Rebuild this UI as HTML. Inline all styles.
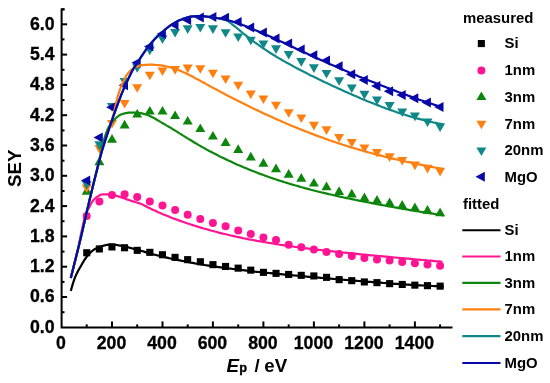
<!DOCTYPE html>
<html><head><meta charset="utf-8"><title>SEY</title>
<style>
html,body{margin:0;padding:0;background:#fff;}
svg{display:block;}
text{font-family:"Liberation Sans",Arial,sans-serif;font-weight:bold;fill:#000;}
.t{font-size:17.7px;stroke:#000;stroke-width:0.3px;}
.l{font-size:14.9px;}
.a{font-size:18.7px;}
</style></head><body>
<svg width="550" height="383" viewBox="0 0 550 383">
<rect width="550" height="383" fill="#fff"/>
<g><rect x="83.2" y="249.2" width="7.1" height="7.1" fill="#000000"/><rect x="95.8" y="245.4" width="7.1" height="7.1" fill="#000000"/><rect x="108.4" y="243.4" width="7.1" height="7.1" fill="#000000"/><rect x="121.0" y="244.2" width="7.1" height="7.1" fill="#000000"/><rect x="133.7" y="246.8" width="7.1" height="7.1" fill="#000000"/><rect x="146.3" y="248.8" width="7.1" height="7.1" fill="#000000"/><rect x="158.9" y="251.2" width="7.1" height="7.1" fill="#000000"/><rect x="171.5" y="253.8" width="7.1" height="7.1" fill="#000000"/><rect x="184.1" y="256.1" width="7.1" height="7.1" fill="#000000"/><rect x="196.8" y="258.2" width="7.1" height="7.1" fill="#000000"/><rect x="209.4" y="261.1" width="7.1" height="7.1" fill="#000000"/><rect x="222.0" y="262.9" width="7.1" height="7.1" fill="#000000"/><rect x="234.6" y="264.6" width="7.1" height="7.1" fill="#000000"/><rect x="247.2" y="266.6" width="7.1" height="7.1" fill="#000000"/><rect x="259.9" y="268.8" width="7.1" height="7.1" fill="#000000"/><rect x="272.5" y="269.8" width="7.1" height="7.1" fill="#000000"/><rect x="285.1" y="270.9" width="7.1" height="7.1" fill="#000000"/><rect x="297.7" y="271.8" width="7.1" height="7.1" fill="#000000"/><rect x="310.3" y="272.4" width="7.1" height="7.1" fill="#000000"/><rect x="323.0" y="273.8" width="7.1" height="7.1" fill="#000000"/><rect x="335.6" y="276.1" width="7.1" height="7.1" fill="#000000"/><rect x="348.2" y="277.1" width="7.1" height="7.1" fill="#000000"/><rect x="360.8" y="278.4" width="7.1" height="7.1" fill="#000000"/><rect x="373.4" y="279.1" width="7.1" height="7.1" fill="#000000"/><rect x="386.1" y="280.1" width="7.1" height="7.1" fill="#000000"/><rect x="398.7" y="280.9" width="7.1" height="7.1" fill="#000000"/><rect x="411.3" y="281.6" width="7.1" height="7.1" fill="#000000"/><rect x="423.9" y="282.1" width="7.1" height="7.1" fill="#000000"/><rect x="436.6" y="282.6" width="7.1" height="7.1" fill="#000000"/></g>
<g><circle cx="86.7" cy="215.9" r="4.0" fill="#FF1493"/><circle cx="99.4" cy="201.4" r="4.0" fill="#FF1493"/><circle cx="112.0" cy="195.1" r="4.0" fill="#FF1493"/><circle cx="124.6" cy="194.3" r="4.0" fill="#FF1493"/><circle cx="137.2" cy="197.1" r="4.0" fill="#FF1493"/><circle cx="149.8" cy="201.4" r="4.0" fill="#FF1493"/><circle cx="162.5" cy="205.6" r="4.0" fill="#FF1493"/><circle cx="175.1" cy="210.1" r="4.0" fill="#FF1493"/><circle cx="187.7" cy="214.7" r="4.0" fill="#FF1493"/><circle cx="200.3" cy="218.9" r="4.0" fill="#FF1493"/><circle cx="212.9" cy="223.1" r="4.0" fill="#FF1493"/><circle cx="225.6" cy="226.3" r="4.0" fill="#FF1493"/><circle cx="238.2" cy="230.6" r="4.0" fill="#FF1493"/><circle cx="250.8" cy="233.9" r="4.0" fill="#FF1493"/><circle cx="263.4" cy="237.6" r="4.0" fill="#FF1493"/><circle cx="276.0" cy="240.1" r="4.0" fill="#FF1493"/><circle cx="288.7" cy="244.7" r="4.0" fill="#FF1493"/><circle cx="301.3" cy="247.2" r="4.0" fill="#FF1493"/><circle cx="313.9" cy="249.4" r="4.0" fill="#FF1493"/><circle cx="326.5" cy="251.9" r="4.0" fill="#FF1493"/><circle cx="339.1" cy="253.9" r="4.0" fill="#FF1493"/><circle cx="351.8" cy="255.9" r="4.0" fill="#FF1493"/><circle cx="364.4" cy="258.1" r="4.0" fill="#FF1493"/><circle cx="377.0" cy="259.4" r="4.0" fill="#FF1493"/><circle cx="389.6" cy="260.6" r="4.0" fill="#FF1493"/><circle cx="402.2" cy="261.9" r="4.0" fill="#FF1493"/><circle cx="414.9" cy="263.2" r="4.0" fill="#FF1493"/><circle cx="427.5" cy="264.4" r="4.0" fill="#FF1493"/><circle cx="440.1" cy="265.7" r="4.0" fill="#FF1493"/></g>
<g><polygon points="86.7,186.1 81.7,194.8 91.7,194.8" fill="#0C860C"/><polygon points="99.4,156.5 94.4,165.2 104.4,165.2" fill="#0C860C"/><polygon points="112.0,134.0 107.0,142.7 117.0,142.7" fill="#0C860C"/><polygon points="124.6,119.7 119.6,128.4 129.6,128.4" fill="#0C860C"/><polygon points="137.2,108.9 132.2,117.6 142.2,117.6" fill="#0C860C"/><polygon points="149.8,105.9 144.8,114.6 154.8,114.6" fill="#0C860C"/><polygon points="162.5,105.9 157.5,114.6 167.5,114.6" fill="#0C860C"/><polygon points="175.1,110.4 170.1,119.1 180.1,119.1" fill="#0C860C"/><polygon points="187.7,115.9 182.7,124.6 192.7,124.6" fill="#0C860C"/><polygon points="200.3,123.4 195.3,132.1 205.3,132.1" fill="#0C860C"/><polygon points="212.9,130.9 207.9,139.6 217.9,139.6" fill="#0C860C"/><polygon points="225.6,137.2 220.6,145.9 230.6,145.9" fill="#0C860C"/><polygon points="238.2,144.2 233.2,152.9 243.2,152.9" fill="#0C860C"/><polygon points="250.8,151.8 245.8,160.5 255.8,160.5" fill="#0C860C"/><polygon points="263.4,158.0 258.4,166.7 268.4,166.7" fill="#0C860C"/><polygon points="276.0,163.6 271.0,172.3 281.0,172.3" fill="#0C860C"/><polygon points="288.7,169.1 283.7,177.8 293.7,177.8" fill="#0C860C"/><polygon points="301.3,173.1 296.3,181.8 306.3,181.8" fill="#0C860C"/><polygon points="313.9,177.9 308.9,186.6 318.9,186.6" fill="#0C860C"/><polygon points="326.5,181.6 321.5,190.3 331.5,190.3" fill="#0C860C"/><polygon points="339.1,186.3 334.1,195.0 344.1,195.0" fill="#0C860C"/><polygon points="351.8,188.8 346.8,197.5 356.8,197.5" fill="#0C860C"/><polygon points="364.4,192.6 359.4,201.3 369.4,201.3" fill="#0C860C"/><polygon points="377.0,195.1 372.0,203.8 382.0,203.8" fill="#0C860C"/><polygon points="389.6,197.6 384.6,206.3 394.6,206.3" fill="#0C860C"/><polygon points="402.2,200.1 397.2,208.8 407.2,208.8" fill="#0C860C"/><polygon points="414.9,202.6 409.9,211.3 419.9,211.3" fill="#0C860C"/><polygon points="427.5,205.1 422.5,213.8 432.5,213.8" fill="#0C860C"/><polygon points="440.1,207.6 435.1,216.3 445.1,216.3" fill="#0C860C"/></g>
<g><polygon points="86.7,193.0 81.7,184.4 91.7,184.4" fill="#FF8010"/><polygon points="99.4,153.7 94.4,145.1 104.4,145.1" fill="#FF8010"/><polygon points="112.0,128.6 107.0,120.0 117.0,120.0" fill="#FF8010"/><polygon points="124.6,108.5 119.6,99.9 129.6,99.9" fill="#FF8010"/><polygon points="137.2,92.8 132.2,84.2 142.2,84.2" fill="#FF8010"/><polygon points="149.8,80.3 144.8,71.7 154.8,71.7" fill="#FF8010"/><polygon points="162.5,76.0 157.5,67.4 167.5,67.4" fill="#FF8010"/><polygon points="175.1,74.7 170.1,66.1 180.1,66.1" fill="#FF8010"/><polygon points="187.7,73.2 182.7,64.6 192.7,64.6" fill="#FF8010"/><polygon points="200.3,73.8 195.3,65.2 205.3,65.2" fill="#FF8010"/><polygon points="212.9,78.3 207.9,69.7 217.9,69.7" fill="#FF8010"/><polygon points="225.6,84.0 220.6,75.4 230.6,75.4" fill="#FF8010"/><polygon points="238.2,90.3 233.2,81.7 243.2,81.7" fill="#FF8010"/><polygon points="250.8,99.2 245.8,90.6 255.8,90.6" fill="#FF8010"/><polygon points="263.4,104.0 258.4,95.4 268.4,95.4" fill="#FF8010"/><polygon points="276.0,110.3 271.0,101.7 281.0,101.7" fill="#FF8010"/><polygon points="288.7,117.8 283.7,109.2 293.7,109.2" fill="#FF8010"/><polygon points="301.3,123.1 296.3,114.5 306.3,114.5" fill="#FF8010"/><polygon points="313.9,130.4 308.9,121.8 318.9,121.8" fill="#FF8010"/><polygon points="326.5,134.9 321.5,126.3 331.5,126.3" fill="#FF8010"/><polygon points="339.1,142.6 334.1,134.0 344.1,134.0" fill="#FF8010"/><polygon points="351.8,147.6 346.8,139.0 356.8,139.0" fill="#FF8010"/><polygon points="364.4,153.1 359.4,144.5 369.4,144.5" fill="#FF8010"/><polygon points="377.0,157.6 372.0,149.0 382.0,149.0" fill="#FF8010"/><polygon points="389.6,161.9 384.6,153.3 394.6,153.3" fill="#FF8010"/><polygon points="402.2,165.6 397.2,157.0 407.2,157.0" fill="#FF8010"/><polygon points="414.9,170.2 409.9,161.6 419.9,161.6" fill="#FF8010"/><polygon points="427.5,173.4 422.5,164.8 432.5,164.8" fill="#FF8010"/><polygon points="440.1,176.4 435.1,167.8 445.1,167.8" fill="#FF8010"/></g>
<g><polygon points="86.7,189.6 81.7,181.0 91.7,181.0" fill="#108888"/><polygon points="99.4,149.9 94.4,141.3 104.4,141.3" fill="#108888"/><polygon points="112.0,111.7 107.0,103.1 117.0,103.1" fill="#108888"/><polygon points="124.6,86.5 119.6,77.9 129.6,77.9" fill="#108888"/><polygon points="137.2,72.7 132.2,64.1 142.2,64.1" fill="#108888"/><polygon points="149.8,55.2 144.8,46.6 154.8,46.6" fill="#108888"/><polygon points="162.5,43.9 157.5,35.3 167.5,35.3" fill="#108888"/><polygon points="175.1,37.6 170.1,29.0 180.1,29.0" fill="#108888"/><polygon points="187.7,33.9 182.7,25.3 192.7,25.3" fill="#108888"/><polygon points="200.3,32.5 195.3,23.9 205.3,23.9" fill="#108888"/><polygon points="212.9,33.9 207.9,25.3 217.9,25.3" fill="#108888"/><polygon points="225.6,37.8 220.6,29.2 230.6,29.2" fill="#108888"/><polygon points="238.2,42.1 233.2,33.5 243.2,33.5" fill="#108888"/><polygon points="250.8,45.3 245.8,36.7 255.8,36.7" fill="#108888"/><polygon points="263.4,49.0 258.4,40.4 268.4,40.4" fill="#108888"/><polygon points="276.0,53.9 271.0,45.3 281.0,45.3" fill="#108888"/><polygon points="288.7,59.6 283.7,51.0 293.7,51.0" fill="#108888"/><polygon points="301.3,66.7 296.3,58.1 306.3,58.1" fill="#108888"/><polygon points="313.9,72.9 308.9,64.3 318.9,64.3" fill="#108888"/><polygon points="326.5,78.5 321.5,69.9 331.5,69.9" fill="#108888"/><polygon points="339.1,85.8 334.1,77.2 344.1,77.2" fill="#108888"/><polygon points="351.8,93.1 346.8,84.5 356.8,84.5" fill="#108888"/><polygon points="364.4,99.4 359.4,90.8 369.4,90.8" fill="#108888"/><polygon points="377.0,105.2 372.0,96.6 382.0,96.6" fill="#108888"/><polygon points="389.6,110.7 384.6,102.1 394.6,102.1" fill="#108888"/><polygon points="402.2,117.0 397.2,108.4 407.2,108.4" fill="#108888"/><polygon points="414.9,121.2 409.9,112.6 419.9,112.6" fill="#108888"/><polygon points="427.5,127.0 422.5,118.4 432.5,118.4" fill="#108888"/><polygon points="440.1,132.0 435.1,123.4 445.1,123.4" fill="#108888"/></g>
<g><polygon points="80.9,180.6 90.2,175.6 90.2,185.6" fill="#0808A8"/><polygon points="93.5,137.4 102.8,132.4 102.8,142.4" fill="#0808A8"/><polygon points="106.1,107.3 115.4,102.3 115.4,112.3" fill="#0808A8"/><polygon points="118.7,85.3 128.0,80.3 128.0,90.3" fill="#0808A8"/><polygon points="131.4,62.7 140.7,57.7 140.7,67.7" fill="#0808A8"/><polygon points="144.0,46.4 153.3,41.4 153.3,51.4" fill="#0808A8"/><polygon points="156.6,33.9 165.9,28.9 165.9,38.9" fill="#0808A8"/><polygon points="169.2,25.1 178.5,20.1 178.5,30.1" fill="#0808A8"/><polygon points="181.8,20.1 191.1,15.1 191.1,25.1" fill="#0808A8"/><polygon points="194.5,17.6 203.8,12.6 203.8,22.6" fill="#0808A8"/><polygon points="207.1,17.1 216.4,12.1 216.4,22.1" fill="#0808A8"/><polygon points="219.7,17.8 229.0,12.8 229.0,22.8" fill="#0808A8"/><polygon points="232.3,22.0 241.6,17.0 241.6,27.0" fill="#0808A8"/><polygon points="244.9,27.6 254.2,22.6 254.2,32.6" fill="#0808A8"/><polygon points="257.6,32.6 266.9,27.6 266.9,37.6" fill="#0808A8"/><polygon points="270.2,38.5 279.5,33.5 279.5,43.5" fill="#0808A8"/><polygon points="282.8,43.4 292.1,38.4 292.1,48.4" fill="#0808A8"/><polygon points="295.4,49.6 304.7,44.6 304.7,54.6" fill="#0808A8"/><polygon points="308.0,55.3 317.3,50.3 317.3,60.3" fill="#0808A8"/><polygon points="320.7,60.4 330.0,55.4 330.0,65.4" fill="#0808A8"/><polygon points="333.3,66.3 342.6,61.3 342.6,71.3" fill="#0808A8"/><polygon points="345.9,74.3 355.2,69.3 355.2,79.3" fill="#0808A8"/><polygon points="358.5,80.1 367.8,75.1 367.8,85.1" fill="#0808A8"/><polygon points="371.1,86.1 380.4,81.1 380.4,91.1" fill="#0808A8"/><polygon points="383.8,91.2 393.1,86.2 393.1,96.2" fill="#0808A8"/><polygon points="396.4,94.9 405.7,89.9 405.7,99.9" fill="#0808A8"/><polygon points="409.0,98.2 418.3,93.2 418.3,103.2" fill="#0808A8"/><polygon points="421.6,102.4 430.9,97.4 430.9,107.4" fill="#0808A8"/><polygon points="434.2,107.0 443.5,102.0 443.5,112.0" fill="#0808A8"/></g>
<path d="M70.8,290.9 L71.3,289.1 L71.8,287.3 L72.3,285.6 L72.8,283.9 L73.3,282.3 L73.8,280.8 L74.3,279.4 L74.8,278.0 L75.3,276.7 L75.8,275.6 L76.3,274.4 L76.8,273.4 L77.3,272.4 L77.8,271.4 L78.3,270.5 L78.8,269.6 L79.3,268.7 L79.8,267.8 L80.3,267.0 L80.8,266.1 L81.3,265.3 L81.8,264.4 L82.3,263.5 L82.8,262.7 L83.3,261.9 L83.8,261.0 L84.3,260.2 L84.8,259.5 L85.3,258.7 L85.8,258.0 L86.3,257.3 L86.8,256.6 L87.3,256.0 L87.8,255.4 L88.3,254.8 L88.8,254.3 L89.3,253.7 L89.8,253.2 L90.3,252.7 L90.8,252.2 L91.3,251.7 L91.8,251.3 L92.3,250.9 L92.8,250.5 L93.3,250.1 L93.8,249.8 L94.3,249.5 L94.8,249.1 L95.3,248.9 L95.8,248.6 L96.3,248.3 L96.8,248.1 L97.3,247.8 L97.8,247.6 L98.3,247.4 L98.8,247.2 L99.3,247.0 L99.8,246.8 L100.3,246.7 L100.8,246.5 L101.3,246.4 L101.8,246.2 L102.3,246.1 L102.8,245.9 L103.3,245.8 L103.8,245.6 L104.3,245.5 L104.8,245.4 L105.3,245.3 L105.8,245.1 L106.3,245.0 L106.8,244.9 L107.3,244.8 L107.8,244.8 L108.3,244.7 L108.8,244.6 L109.3,244.6 L109.8,244.5 L110.3,244.5 L110.8,244.5 L111.3,244.5 L111.8,244.5 L112.3,244.5 L112.8,244.6 L113.3,244.6 L113.8,244.6 L114.3,244.7 L114.8,244.8 L115.3,244.8 L115.8,244.9 L116.3,245.0 L116.8,245.0 L117.3,245.1 L117.8,245.2 L118.3,245.3 L118.8,245.4 L119.3,245.5 L119.8,245.6 L120.3,245.6 L120.8,245.7 L121.3,245.8 L121.8,245.9 L122.3,246.0 L122.8,246.1 L123.3,246.2 L123.8,246.3 L124.3,246.4 L124.8,246.5 L125.3,246.6 L125.8,246.7 L126.3,246.9 L126.8,247.0 L127.3,247.1 L127.8,247.2 L128.3,247.4 L128.8,247.5 L129.3,247.6 L129.8,247.8 L130.3,247.9 L130.8,248.0 L131.3,248.2 L131.8,248.3 L132.3,248.4 L132.8,248.6 L133.3,248.7 L133.8,248.8 L134.3,249.0 L134.8,249.1 L136.8,249.6 L138.8,250.1 L140.8,250.7 L142.8,251.3 L144.8,251.9 L146.8,252.6 L148.8,253.2 L150.8,253.8 L152.8,254.3 L154.8,254.8 L156.8,255.3 L158.8,255.8 L160.8,256.3 L162.8,256.7 L164.8,257.2 L166.8,257.6 L168.8,258.1 L170.8,258.5 L172.8,259.0 L174.8,259.4 L176.8,259.8 L178.8,260.2 L180.8,260.6 L182.8,261.0 L184.8,261.4 L186.8,261.8 L188.8,262.2 L190.8,262.6 L192.8,262.9 L194.8,263.3 L196.8,263.6 L198.8,264.0 L200.8,264.3 L202.8,264.6 L204.8,265.0 L206.8,265.3 L208.8,265.6 L210.8,265.9 L212.8,266.2 L214.8,266.5 L216.8,266.8 L218.8,267.1 L220.8,267.4 L222.8,267.7 L224.8,267.9 L226.8,268.2 L228.8,268.5 L230.8,268.7 L232.8,269.0 L234.8,269.2 L236.8,269.5 L238.8,269.7 L240.8,270.0 L242.8,270.2 L244.8,270.4 L246.8,270.7 L248.8,270.9 L250.8,271.1 L252.8,271.3 L254.8,271.6 L256.8,271.8 L258.8,272.0 L260.8,272.2 L262.8,272.4 L264.8,272.6 L266.8,272.8 L268.8,273.0 L270.8,273.2 L272.8,273.4 L274.8,273.6 L276.8,273.8 L278.8,274.0 L280.8,274.2 L282.8,274.4 L284.8,274.6 L286.8,274.8 L288.8,275.0 L290.8,275.1 L292.8,275.3 L294.8,275.5 L296.8,275.7 L298.8,275.9 L300.8,276.0 L302.8,276.2 L304.8,276.4 L306.8,276.6 L308.8,276.8 L310.8,276.9 L312.8,277.1 L314.8,277.3 L316.8,277.4 L318.8,277.6 L320.8,277.8 L322.8,278.0 L324.8,278.1 L326.8,278.3 L328.8,278.5 L330.8,278.6 L332.8,278.8 L334.8,279.0 L336.8,279.1 L338.8,279.3 L340.8,279.5 L342.8,279.7 L344.8,279.8 L346.8,280.0 L348.8,280.1 L350.8,280.3 L352.8,280.5 L354.8,280.6 L356.8,280.8 L358.8,281.0 L360.8,281.1 L362.8,281.3 L364.8,281.5 L366.8,281.6 L368.8,281.8 L370.8,281.9 L372.8,282.1 L374.8,282.2 L376.8,282.4 L378.8,282.6 L380.8,282.7 L382.8,282.9 L384.8,283.0 L386.8,283.2 L388.8,283.3 L390.8,283.5 L392.8,283.6 L394.8,283.8 L396.8,283.9 L398.8,284.0 L400.8,284.2 L402.8,284.3 L404.8,284.4 L406.8,284.6 L408.8,284.7 L410.8,284.8 L412.8,284.9 L414.8,285.1 L416.8,285.2 L418.8,285.3 L420.8,285.4 L422.8,285.5 L424.8,285.6 L426.8,285.7 L428.8,285.8 L430.8,285.9 L432.8,286.0 L434.8,286.1 L436.8,286.2 L438.8,286.2 L440.8,286.3 L442.8,286.4 L443.8,286.5" fill="none" stroke="#000000" stroke-width="2.2" stroke-linejoin="round"/>
<path d="M70.8,278.1 L71.3,276.1 L71.8,274.1 L72.3,272.1 L72.8,270.0 L73.3,268.0 L73.8,266.0 L74.3,264.0 L74.8,262.0 L75.3,260.0 L75.8,257.9 L76.3,255.9 L76.8,253.8 L77.3,251.8 L77.8,249.7 L78.3,247.7 L78.8,245.4 L79.3,243.0 L79.8,240.2 L80.3,237.5 L80.8,234.9 L81.3,232.5 L81.8,230.1 L82.3,227.7 L82.8,225.4 L83.3,223.2 L83.8,220.9 L84.3,218.7 L84.8,216.7 L85.3,215.0 L85.8,213.6 L86.3,212.3 L86.8,211.2 L87.3,210.3 L87.8,209.6 L88.3,208.9 L88.8,208.2 L89.3,207.3 L89.8,206.4 L90.3,205.3 L90.8,204.2 L91.3,203.2 L91.8,202.3 L92.3,201.6 L92.8,200.9 L93.3,200.3 L93.8,199.7 L94.3,199.2 L94.8,198.7 L95.3,198.2 L95.8,197.8 L96.3,197.4 L96.8,197.1 L97.3,196.8 L97.8,196.4 L98.3,196.1 L98.8,195.8 L99.3,195.6 L99.8,195.3 L100.3,195.0 L100.8,194.8 L101.3,194.6 L101.8,194.5 L102.3,194.4 L102.8,194.3 L103.3,194.3 L103.8,194.3 L104.3,194.3 L104.8,194.3 L105.3,194.3 L105.8,194.3 L106.3,194.4 L106.8,194.4 L107.3,194.4 L107.8,194.4 L108.3,194.4 L108.8,194.5 L109.3,194.5 L109.8,194.5 L110.3,194.6 L110.8,194.6 L111.3,194.6 L111.8,194.7 L112.3,194.8 L112.8,194.8 L113.3,194.9 L113.8,195.1 L114.3,195.2 L114.8,195.3 L115.3,195.5 L115.8,195.6 L116.3,195.8 L116.8,195.9 L117.3,196.1 L117.8,196.3 L118.3,196.4 L118.8,196.6 L119.3,196.7 L119.8,196.9 L120.3,197.0 L120.8,197.2 L121.3,197.4 L121.8,197.5 L122.3,197.7 L122.8,197.9 L123.3,198.1 L123.8,198.3 L124.3,198.5 L124.8,198.6 L125.3,198.8 L125.8,199.0 L126.3,199.2 L126.8,199.3 L127.3,199.5 L127.8,199.7 L128.3,199.8 L128.8,200.0 L129.3,200.2 L129.8,200.3 L130.3,200.5 L130.8,200.7 L131.3,200.8 L131.8,201.0 L132.3,201.2 L132.8,201.3 L133.3,201.5 L133.8,201.6 L134.3,201.8 L134.8,202.0 L136.8,202.5 L138.8,203.1 L140.8,203.8 L142.8,204.7 L144.8,205.7 L146.8,206.8 L148.8,207.8 L150.8,208.8 L152.8,209.7 L154.8,210.6 L156.8,211.6 L158.8,212.5 L160.8,213.3 L162.8,214.2 L164.8,215.0 L166.8,215.8 L168.8,216.6 L170.8,217.4 L172.8,218.2 L174.8,218.9 L176.8,219.6 L178.8,220.4 L180.8,221.1 L182.8,221.8 L184.8,222.5 L186.8,223.2 L188.8,223.8 L190.8,224.5 L192.8,225.1 L194.8,225.8 L196.8,226.4 L198.8,227.0 L200.8,227.6 L202.8,228.2 L204.8,228.8 L206.8,229.3 L208.8,229.9 L210.8,230.5 L212.8,231.0 L214.8,231.5 L216.8,232.0 L218.8,232.6 L220.8,233.1 L222.8,233.6 L224.8,234.0 L226.8,234.5 L228.8,235.0 L230.8,235.5 L232.8,235.9 L234.8,236.3 L236.8,236.8 L238.8,237.2 L240.8,237.6 L242.8,238.1 L244.8,238.5 L246.8,238.9 L248.8,239.3 L250.8,239.6 L252.8,240.0 L254.8,240.4 L256.8,240.8 L258.8,241.1 L260.8,241.5 L262.8,241.8 L264.8,242.2 L266.8,242.5 L268.8,242.9 L270.8,243.2 L272.8,243.5 L274.8,243.8 L276.8,244.1 L278.8,244.5 L280.8,244.8 L282.8,245.1 L284.8,245.4 L286.8,245.6 L288.8,245.9 L290.8,246.2 L292.8,246.5 L294.8,246.8 L296.8,247.0 L298.8,247.3 L300.8,247.6 L302.8,247.8 L304.8,248.1 L306.8,248.3 L308.8,248.6 L310.8,248.8 L312.8,249.1 L314.8,249.3 L316.8,249.6 L318.8,249.8 L320.8,250.0 L322.8,250.3 L324.8,250.5 L326.8,250.7 L328.8,251.0 L330.8,251.2 L332.8,251.4 L334.8,251.6 L336.8,251.8 L338.8,252.0 L340.8,252.3 L342.8,252.5 L344.8,252.7 L346.8,252.9 L348.8,253.1 L350.8,253.3 L352.8,253.5 L354.8,253.7 L356.8,253.9 L358.8,254.1 L360.8,254.3 L362.8,254.5 L364.8,254.7 L366.8,254.9 L368.8,255.1 L370.8,255.3 L372.8,255.4 L374.8,255.6 L376.8,255.8 L378.8,256.0 L380.8,256.2 L382.8,256.4 L384.8,256.6 L386.8,256.7 L388.8,256.9 L390.8,257.1 L392.8,257.3 L394.8,257.5 L396.8,257.7 L398.8,257.8 L400.8,258.0 L402.8,258.2 L404.8,258.4 L406.8,258.6 L408.8,258.7 L410.8,258.9 L412.8,259.1 L414.8,259.3 L416.8,259.5 L418.8,259.6 L420.8,259.8 L422.8,260.0 L424.8,260.2 L426.8,260.4 L428.8,260.5 L430.8,260.7 L432.8,260.9 L434.8,261.1 L436.8,261.3 L438.8,261.4 L440.8,261.6 L442.3,261.8" fill="none" stroke="#FF1493" stroke-width="2.2" stroke-linejoin="round"/>
<path d="M70.8,278.1 L71.3,276.1 L71.8,274.1 L72.3,272.0 L72.8,270.0 L73.3,268.0 L73.8,266.0 L74.3,264.0 L74.8,262.0 L75.3,260.0 L75.8,258.0 L76.3,256.0 L76.8,254.0 L77.3,252.0 L77.8,250.0 L78.3,248.0 L78.8,245.9 L79.3,243.9 L79.8,241.8 L80.3,239.8 L80.8,237.7 L81.3,235.6 L81.8,233.4 L82.3,231.3 L82.8,229.2 L83.3,227.0 L83.8,224.8 L84.3,222.7 L84.8,220.5 L85.3,218.3 L85.8,216.1 L86.3,214.0 L86.8,211.8 L87.3,209.7 L87.8,207.5 L88.3,205.4 L88.8,203.2 L89.3,201.1 L89.8,199.0 L90.3,197.0 L90.8,194.9 L91.3,192.9 L91.8,190.8 L92.3,188.8 L92.8,186.7 L93.3,184.7 L93.8,182.7 L94.3,180.6 L94.8,178.6 L95.3,176.6 L95.8,174.5 L96.3,172.4 L96.8,170.4 L97.3,168.4 L97.8,166.3 L98.3,164.2 L98.8,162.1 L99.3,160.0 L99.8,157.8 L100.3,155.5 L100.8,153.1 L101.3,150.7 L101.8,148.4 L102.3,146.2 L102.8,144.2 L103.3,142.3 L103.8,140.5 L104.3,138.8 L104.8,137.1 L105.3,135.5 L105.8,134.0 L106.3,132.6 L106.8,131.3 L107.3,130.0 L107.8,128.8 L108.3,127.8 L108.8,126.9 L109.3,126.1 L109.8,125.3 L110.3,124.5 L110.8,123.8 L111.3,123.1 L111.8,122.5 L112.3,121.9 L112.8,121.3 L113.3,120.7 L113.8,120.2 L114.3,119.7 L114.8,119.2 L115.3,118.7 L115.8,118.2 L116.3,117.8 L116.8,117.3 L117.3,116.9 L117.8,116.5 L118.3,116.1 L118.8,115.7 L119.3,115.4 L119.8,115.1 L120.3,114.8 L120.8,114.6 L121.3,114.4 L121.8,114.2 L122.3,114.1 L122.8,113.9 L123.3,113.8 L123.8,113.6 L124.3,113.5 L124.8,113.4 L125.3,113.2 L125.8,113.1 L126.3,113.0 L126.8,112.9 L127.3,112.8 L127.8,112.8 L128.3,112.7 L128.8,112.7 L129.3,112.6 L129.8,112.6 L130.3,112.6 L130.8,112.6 L131.3,112.6 L131.8,112.6 L132.3,112.6 L132.8,112.6 L133.3,112.6 L133.8,112.7 L134.3,112.7 L134.8,112.7 L136.8,112.8 L138.8,112.9 L140.8,113.2 L142.8,113.6 L144.8,114.2 L146.8,114.8 L148.8,115.5 L150.8,116.4 L152.8,117.4 L154.8,118.5 L156.8,119.7 L158.8,120.9 L160.8,122.1 L162.8,123.2 L164.8,124.4 L166.8,125.6 L168.8,126.7 L170.8,127.9 L172.8,129.2 L174.8,130.4 L176.8,131.6 L178.8,132.9 L180.8,134.1 L182.8,135.4 L184.8,136.6 L186.8,137.9 L188.8,139.1 L190.8,140.3 L192.8,141.5 L194.8,142.7 L196.8,143.9 L198.8,145.1 L200.8,146.2 L202.8,147.4 L204.8,148.5 L206.8,149.6 L208.8,150.7 L210.8,151.7 L212.8,152.8 L214.8,153.8 L216.8,154.8 L218.8,155.9 L220.8,156.9 L222.8,157.8 L224.8,158.8 L226.8,159.8 L228.8,160.7 L230.8,161.6 L232.8,162.6 L234.8,163.5 L236.8,164.4 L238.8,165.2 L240.8,166.1 L242.8,167.0 L244.8,167.8 L246.8,168.6 L248.8,169.4 L250.8,170.2 L252.8,171.0 L254.8,171.8 L256.8,172.6 L258.8,173.4 L260.8,174.1 L262.8,174.8 L264.8,175.6 L266.8,176.3 L268.8,177.0 L270.8,177.7 L272.8,178.4 L274.8,179.0 L276.8,179.7 L278.8,180.4 L280.8,181.0 L282.8,181.6 L284.8,182.3 L286.8,182.9 L288.8,183.5 L290.8,184.1 L292.8,184.7 L294.8,185.3 L296.8,185.8 L298.8,186.4 L300.8,187.0 L302.8,187.5 L304.8,188.1 L306.8,188.6 L308.8,189.1 L310.8,189.7 L312.8,190.2 L314.8,190.7 L316.8,191.2 L318.8,191.7 L320.8,192.2 L322.8,192.7 L324.8,193.1 L326.8,193.6 L328.8,194.1 L330.8,194.5 L332.8,195.0 L334.8,195.5 L336.8,195.9 L338.8,196.4 L340.8,196.8 L342.8,197.2 L344.8,197.7 L346.8,198.1 L348.8,198.5 L350.8,198.9 L352.8,199.3 L354.8,199.7 L356.8,200.2 L358.8,200.6 L360.8,201.0 L362.8,201.4 L364.8,201.7 L366.8,202.1 L368.8,202.5 L370.8,202.9 L372.8,203.3 L374.8,203.7 L376.8,204.1 L378.8,204.4 L380.8,204.8 L382.8,205.2 L384.8,205.5 L386.8,205.9 L388.8,206.3 L390.8,206.6 L392.8,207.0 L394.8,207.3 L396.8,207.7 L398.8,208.1 L400.8,208.4 L402.8,208.8 L404.8,209.1 L406.8,209.4 L408.8,209.8 L410.8,210.1 L412.8,210.5 L414.8,210.8 L416.8,211.1 L418.8,211.5 L420.8,211.8 L422.8,212.1 L424.8,212.4 L426.8,212.8 L428.8,213.1 L430.8,213.4 L432.8,213.7 L434.8,214.0 L436.8,214.3 L438.8,214.7 L440.8,215.0 L442.8,215.3 L443.8,215.4" fill="none" stroke="#0C860C" stroke-width="2.2" stroke-linejoin="round"/>
<path d="M70.8,278.1 L71.3,276.1 L71.8,274.1 L72.3,272.0 L72.8,270.0 L73.3,268.0 L73.8,266.0 L74.3,264.0 L74.8,262.0 L75.3,260.0 L75.8,258.0 L76.3,256.0 L76.8,254.0 L77.3,252.0 L77.8,250.0 L78.3,248.0 L78.8,245.9 L79.3,243.9 L79.8,241.8 L80.3,239.8 L80.8,237.7 L81.3,235.6 L81.8,233.4 L82.3,231.3 L82.8,229.2 L83.3,227.0 L83.8,224.8 L84.3,222.7 L84.8,220.5 L85.3,218.3 L85.8,216.1 L86.3,214.0 L86.8,211.8 L87.3,209.7 L87.8,207.5 L88.3,205.4 L88.8,203.2 L89.3,201.1 L89.8,199.0 L90.3,197.0 L90.8,194.9 L91.3,192.8 L91.8,190.7 L92.3,188.7 L92.8,186.6 L93.3,184.6 L93.8,182.5 L94.3,180.5 L94.8,178.5 L95.3,176.5 L95.8,174.5 L96.3,172.5 L96.8,170.5 L97.3,168.6 L97.8,166.6 L98.3,164.6 L98.8,162.7 L99.3,160.7 L99.8,158.8 L100.3,157.0 L100.8,155.1 L101.3,153.3 L101.8,151.5 L102.3,149.8 L102.8,148.1 L103.3,146.5 L103.8,144.9 L104.3,143.4 L104.8,141.8 L105.3,140.3 L105.8,138.8 L106.3,137.3 L106.8,135.8 L107.3,134.3 L107.8,132.7 L108.3,131.2 L108.8,129.6 L109.3,128.0 L109.8,126.5 L110.3,124.9 L110.8,123.4 L111.3,121.8 L111.8,120.2 L112.3,118.6 L112.8,116.9 L113.3,115.1 L113.8,113.2 L114.3,111.2 L114.8,108.9 L115.3,106.6 L115.8,104.3 L116.3,102.0 L116.8,99.9 L117.3,98.0 L117.8,96.3 L118.3,94.6 L118.8,93.1 L119.3,91.6 L119.8,90.1 L120.3,88.7 L120.8,87.4 L121.3,86.2 L121.8,85.0 L122.3,83.8 L122.8,82.7 L123.3,81.5 L123.8,80.5 L124.3,79.4 L124.8,78.4 L125.3,77.4 L125.8,76.5 L126.3,75.7 L126.8,74.9 L127.3,74.3 L127.8,73.6 L128.3,73.0 L128.8,72.5 L129.3,71.9 L129.8,71.4 L130.3,70.8 L130.8,70.4 L131.3,69.9 L131.8,69.5 L132.3,69.0 L132.8,68.7 L133.3,68.3 L133.8,68.0 L134.3,67.7 L134.8,67.4 L136.8,66.6 L138.8,65.9 L140.8,65.4 L142.8,65.1 L144.8,64.9 L146.8,64.8 L148.8,64.7 L150.8,64.7 L152.8,64.7 L154.8,64.9 L156.8,65.0 L158.8,65.2 L160.8,65.4 L162.8,65.7 L164.8,66.1 L166.8,66.5 L168.8,67.0 L170.8,67.5 L172.8,68.1 L174.8,68.7 L176.8,69.5 L178.8,70.2 L180.8,71.0 L182.8,71.9 L184.8,72.8 L186.8,73.8 L188.8,74.8 L190.8,75.8 L192.8,76.8 L194.8,77.9 L196.8,78.9 L198.8,80.0 L200.8,81.1 L202.8,82.2 L204.8,83.3 L206.8,84.4 L208.8,85.5 L210.8,86.6 L212.8,87.7 L214.8,88.8 L216.8,89.8 L218.8,90.9 L220.8,92.0 L222.8,93.1 L224.8,94.1 L226.8,95.2 L228.8,96.2 L230.8,97.2 L232.8,98.3 L234.8,99.3 L236.8,100.3 L238.8,101.3 L240.8,102.3 L242.8,103.3 L244.8,104.3 L246.8,105.3 L248.8,106.3 L250.8,107.3 L252.8,108.2 L254.8,109.2 L256.8,110.1 L258.8,111.1 L260.8,112.0 L262.8,113.0 L264.8,113.9 L266.8,114.8 L268.8,115.7 L270.8,116.6 L272.8,117.5 L274.8,118.4 L276.8,119.3 L278.8,120.2 L280.8,121.1 L282.8,122.0 L284.8,122.8 L286.8,123.7 L288.8,124.5 L290.8,125.4 L292.8,126.2 L294.8,127.0 L296.8,127.8 L298.8,128.7 L300.8,129.5 L302.8,130.3 L304.8,131.1 L306.8,131.8 L308.8,132.6 L310.8,133.4 L312.8,134.1 L314.8,134.9 L316.8,135.6 L318.8,136.4 L320.8,137.1 L322.8,137.8 L324.8,138.6 L326.8,139.3 L328.8,140.0 L330.8,140.7 L332.8,141.4 L334.8,142.0 L336.8,142.7 L338.8,143.4 L340.8,144.0 L342.8,144.7 L344.8,145.3 L346.8,146.0 L348.8,146.6 L350.8,147.2 L352.8,147.8 L354.8,148.4 L356.8,149.0 L358.8,149.6 L360.8,150.2 L362.8,150.8 L364.8,151.3 L366.8,151.9 L368.8,152.5 L370.8,153.0 L372.8,153.5 L374.8,154.1 L376.8,154.6 L378.8,155.1 L380.8,155.6 L382.8,156.1 L384.8,156.7 L386.8,157.1 L388.8,157.6 L390.8,158.1 L392.8,158.6 L394.8,159.1 L396.8,159.5 L398.8,160.0 L400.8,160.4 L402.8,160.9 L404.8,161.3 L406.8,161.8 L408.8,162.2 L410.8,162.6 L412.8,163.1 L414.8,163.5 L416.8,163.9 L418.8,164.3 L420.8,164.7 L422.8,165.1 L424.8,165.5 L426.8,165.9 L428.8,166.3 L430.8,166.7 L432.8,167.1 L434.8,167.5 L436.8,167.8 L438.8,168.2 L440.8,168.6 L442.8,169.0 L443.8,169.2" fill="none" stroke="#FF8010" stroke-width="2.2" stroke-linejoin="round"/>
<path d="M70.8,278.1 L71.3,276.1 L71.8,274.1 L72.3,272.0 L72.8,270.0 L73.3,268.0 L73.8,266.0 L74.3,264.0 L74.8,262.0 L75.3,260.0 L75.8,258.0 L76.3,256.0 L76.8,254.0 L77.3,252.0 L77.8,250.0 L78.3,248.0 L78.8,245.9 L79.3,243.9 L79.8,241.8 L80.3,239.8 L80.8,237.7 L81.3,235.6 L81.8,233.4 L82.3,231.3 L82.8,229.2 L83.3,227.0 L83.8,224.8 L84.3,222.7 L84.8,220.5 L85.3,218.3 L85.8,216.1 L86.3,214.0 L86.8,211.8 L87.3,209.7 L87.8,207.5 L88.3,205.4 L88.8,203.2 L89.3,201.1 L89.8,199.0 L90.3,197.0 L90.8,194.9 L91.3,192.8 L91.8,190.7 L92.3,188.7 L92.8,186.6 L93.3,184.6 L93.8,182.5 L94.3,180.5 L94.8,178.5 L95.3,176.5 L95.8,174.5 L96.3,172.5 L96.8,170.5 L97.3,168.6 L97.8,166.6 L98.3,164.6 L98.8,162.7 L99.3,160.8 L99.8,158.8 L100.3,157.0 L100.8,155.1 L101.3,153.3 L101.8,151.6 L102.3,149.8 L102.8,148.1 L103.3,146.5 L103.8,144.9 L104.3,143.3 L104.8,141.7 L105.3,140.2 L105.8,138.6 L106.3,137.1 L106.8,135.6 L107.3,134.1 L107.8,132.6 L108.3,131.1 L108.8,129.6 L109.3,128.1 L109.8,126.6 L110.3,125.1 L110.8,123.7 L111.3,122.2 L111.8,120.8 L112.3,119.3 L112.8,117.9 L113.3,116.5 L113.8,115.1 L114.3,113.7 L114.8,112.3 L115.3,110.9 L115.8,109.5 L116.3,108.1 L116.8,106.7 L117.3,105.3 L117.8,103.9 L118.3,102.6 L118.8,101.2 L119.3,99.9 L119.8,98.6 L120.3,97.3 L120.8,96.0 L121.3,94.7 L121.8,93.5 L122.3,92.3 L122.8,91.1 L123.3,89.9 L123.8,88.8 L124.3,87.6 L124.8,86.5 L125.3,85.4 L125.8,84.2 L126.3,83.1 L126.8,82.1 L127.3,81.0 L127.8,79.9 L128.3,78.9 L128.8,77.8 L129.3,76.8 L129.8,75.8 L130.3,74.7 L130.8,73.7 L131.3,72.8 L131.8,71.8 L132.3,70.8 L132.8,69.9 L133.3,69.0 L133.8,68.2 L134.3,67.4 L134.8,66.7 L136.8,63.7 L138.8,60.5 L140.8,57.4 L142.8,54.4 L144.8,51.4 L146.8,48.6 L148.8,46.0 L150.8,43.5 L152.8,41.2 L154.8,39.0 L156.8,36.9 L158.8,35.0 L160.8,33.2 L162.8,31.5 L164.8,29.8 L166.8,28.2 L168.8,26.7 L170.8,25.2 L172.8,23.9 L174.8,22.7 L176.8,21.6 L178.8,20.6 L180.8,19.7 L182.8,18.9 L184.8,18.2 L186.8,17.6 L188.8,17.1 L190.8,16.7 L192.8,16.4 L194.8,16.3 L196.8,16.2 L198.8,16.2 L200.8,16.2 L202.8,16.2 L204.8,16.4 L206.8,16.6 L208.8,16.8 L210.8,17.1 L212.8,17.3 L214.8,17.6 L216.8,18.0 L218.8,18.3 L220.8,18.7 L222.8,19.2 L224.8,19.8 L226.8,20.6 L228.8,21.6 L230.8,23.2 L232.8,24.8 L234.8,26.4 L236.8,28.0 L238.8,29.7 L240.8,31.3 L242.8,33.0 L244.8,34.6 L246.8,36.2 L248.8,37.7 L250.8,39.3 L252.8,40.8 L254.8,42.3 L256.8,43.7 L258.8,45.2 L260.8,46.6 L262.8,48.0 L264.8,49.3 L266.8,50.7 L268.8,52.0 L270.8,53.3 L272.8,54.5 L274.8,55.7 L276.8,57.0 L278.8,58.1 L280.8,59.3 L282.8,60.5 L284.8,61.6 L286.8,62.7 L288.8,63.8 L290.8,64.9 L292.8,66.0 L294.8,67.1 L296.8,68.2 L298.8,69.2 L300.8,70.3 L302.8,71.3 L304.8,72.3 L306.8,73.3 L308.8,74.4 L310.8,75.4 L312.8,76.3 L314.8,77.3 L316.8,78.3 L318.8,79.3 L320.8,80.2 L322.8,81.2 L324.8,82.2 L326.8,83.1 L328.8,84.1 L330.8,85.0 L332.8,85.9 L334.8,86.8 L336.8,87.8 L338.8,88.7 L340.8,89.6 L342.8,90.5 L344.8,91.4 L346.8,92.3 L348.8,93.2 L350.8,94.0 L352.8,94.9 L354.8,95.8 L356.8,96.6 L358.8,97.5 L360.8,98.4 L362.8,99.2 L364.8,100.0 L366.8,100.9 L368.8,101.7 L370.8,102.5 L372.8,103.3 L374.8,104.1 L376.8,104.9 L378.8,105.6 L380.8,106.4 L382.8,107.2 L384.8,107.9 L386.8,108.7 L388.8,109.4 L390.8,110.1 L392.8,110.8 L394.8,111.5 L396.8,112.2 L398.8,112.9 L400.8,113.5 L402.8,114.2 L404.8,114.8 L406.8,115.4 L408.8,116.0 L410.8,116.6 L412.8,117.2 L414.8,117.8 L416.8,118.4 L418.8,118.9 L420.8,119.4 L422.8,119.9 L424.8,120.4 L426.8,120.9 L428.8,121.4 L430.8,121.8 L432.8,122.3 L434.8,122.7 L436.8,123.1 L438.8,123.5 L440.8,123.9 L442.8,124.3 L443.8,124.5" fill="none" stroke="#108888" stroke-width="2.2" stroke-linejoin="round"/>
<path d="M70.8,278.1 L71.3,276.1 L71.8,274.1 L72.3,272.0 L72.8,270.0 L73.3,268.0 L73.8,266.0 L74.3,264.0 L74.8,262.0 L75.3,260.0 L75.8,258.0 L76.3,256.0 L76.8,254.0 L77.3,252.0 L77.8,250.0 L78.3,248.0 L78.8,245.9 L79.3,243.9 L79.8,241.8 L80.3,239.8 L80.8,237.7 L81.3,235.6 L81.8,233.4 L82.3,231.3 L82.8,229.2 L83.3,227.0 L83.8,224.8 L84.3,222.7 L84.8,220.5 L85.3,218.3 L85.8,216.1 L86.3,214.0 L86.8,211.8 L87.3,209.7 L87.8,207.5 L88.3,205.4 L88.8,203.2 L89.3,201.1 L89.8,199.0 L90.3,197.0 L90.8,194.9 L91.3,192.8 L91.8,190.7 L92.3,188.7 L92.8,186.6 L93.3,184.6 L93.8,182.5 L94.3,180.5 L94.8,178.5 L95.3,176.5 L95.8,174.5 L96.3,172.5 L96.8,170.5 L97.3,168.6 L97.8,166.6 L98.3,164.6 L98.8,162.7 L99.3,160.7 L99.8,158.8 L100.3,157.0 L100.8,155.1 L101.3,153.3 L101.8,151.5 L102.3,149.8 L102.8,148.1 L103.3,146.5 L103.8,144.9 L104.3,143.3 L104.8,141.7 L105.3,140.2 L105.8,138.6 L106.3,137.1 L106.8,135.6 L107.3,134.1 L107.8,132.6 L108.3,131.1 L108.8,129.6 L109.3,128.1 L109.8,126.6 L110.3,125.1 L110.8,123.7 L111.3,122.2 L111.8,120.8 L112.3,119.3 L112.8,117.9 L113.3,116.5 L113.8,115.1 L114.3,113.7 L114.8,112.3 L115.3,110.9 L115.8,109.5 L116.3,108.1 L116.8,106.7 L117.3,105.3 L117.8,103.9 L118.3,102.6 L118.8,101.2 L119.3,99.9 L119.8,98.6 L120.3,97.3 L120.8,96.0 L121.3,94.7 L121.8,93.5 L122.3,92.3 L122.8,91.1 L123.3,89.9 L123.8,88.8 L124.3,87.6 L124.8,86.5 L125.3,85.4 L125.8,84.2 L126.3,83.1 L126.8,82.1 L127.3,81.0 L127.8,79.9 L128.3,78.9 L128.8,77.8 L129.3,76.8 L129.8,75.8 L130.3,74.8 L130.8,73.7 L131.3,72.7 L131.8,71.8 L132.3,70.8 L132.8,69.9 L133.3,69.0 L133.8,68.2 L134.3,67.4 L134.8,66.7 L136.8,63.7 L138.8,60.5 L140.8,57.4 L142.8,54.4 L144.8,51.4 L146.8,48.6 L148.8,46.0 L150.8,43.5 L152.8,41.2 L154.8,39.0 L156.8,36.9 L158.8,35.0 L160.8,33.2 L162.8,31.5 L164.8,29.8 L166.8,28.2 L168.8,26.7 L170.8,25.2 L172.8,23.9 L174.8,22.7 L176.8,21.6 L178.8,20.6 L180.8,19.7 L182.8,18.9 L184.8,18.2 L186.8,17.6 L188.8,17.1 L190.8,16.7 L192.8,16.4 L194.8,16.3 L196.8,16.2 L198.8,16.2 L200.8,16.2 L202.8,16.2 L204.8,16.4 L206.8,16.6 L208.8,16.8 L210.8,17.1 L212.8,17.3 L214.8,17.6 L216.8,18.0 L218.8,18.3 L220.8,18.7 L222.8,19.1 L224.8,19.6 L226.8,20.0 L228.8,20.5 L230.8,21.0 L232.8,21.6 L234.8,22.3 L236.8,22.9 L238.8,23.6 L240.8,24.3 L242.8,25.1 L244.8,25.8 L246.8,26.6 L248.8,27.4 L250.8,28.2 L252.8,29.0 L254.8,29.9 L256.8,30.7 L258.8,31.6 L260.8,32.4 L262.8,33.3 L264.8,34.2 L266.8,35.0 L268.8,35.9 L270.8,36.8 L272.8,37.7 L274.8,38.6 L276.8,39.6 L278.8,40.5 L280.8,41.4 L282.8,42.3 L284.8,43.3 L286.8,44.2 L288.8,45.1 L290.8,46.1 L292.8,47.0 L294.8,47.9 L296.8,48.9 L298.8,49.8 L300.8,50.7 L302.8,51.7 L304.8,52.6 L306.8,53.5 L308.8,54.4 L310.8,55.4 L312.8,56.3 L314.8,57.2 L316.8,58.1 L318.8,59.0 L320.8,59.9 L322.8,60.8 L324.8,61.7 L326.8,62.6 L328.8,63.5 L330.8,64.4 L332.8,65.3 L334.8,66.1 L336.8,67.0 L338.8,67.9 L340.8,68.8 L342.8,69.6 L344.8,70.5 L346.8,71.3 L348.8,72.2 L350.8,73.0 L352.8,73.9 L354.8,74.7 L356.8,75.5 L358.8,76.4 L360.8,77.2 L362.8,78.0 L364.8,78.8 L366.8,79.6 L368.8,80.4 L370.8,81.2 L372.8,82.0 L374.8,82.8 L376.8,83.6 L378.8,84.4 L380.8,85.2 L382.8,86.0 L384.8,86.8 L386.8,87.6 L388.8,88.3 L390.8,89.1 L392.8,89.9 L394.8,90.6 L396.8,91.4 L398.8,92.2 L400.8,92.9 L402.8,93.7 L404.8,94.4 L406.8,95.1 L408.8,95.9 L410.8,96.6 L412.8,97.3 L414.8,98.0 L416.8,98.7 L418.8,99.5 L420.8,100.2 L422.8,100.8 L424.8,101.5 L426.8,102.2 L428.8,102.9 L430.8,103.5 L432.8,104.2 L434.8,104.9 L436.8,105.5 L438.8,106.2 L440.8,106.8 L442.3,107.3" fill="none" stroke="#0808A8" stroke-width="2.2" stroke-linejoin="round"/>
<g stroke="#000" stroke-width="2" fill="none"><path d="M61.6,8.5 V327.4 H452.5"/><path d="M61.6,312.2 h2.9"/><path d="M61.6,297.0 h5.5"/><path d="M61.6,281.9 h2.9"/><path d="M61.6,266.7 h5.5"/><path d="M61.6,251.6 h2.9"/><path d="M61.6,236.4 h5.5"/><path d="M61.6,221.2 h2.9"/><path d="M61.6,206.1 h5.5"/><path d="M61.6,191.0 h2.9"/><path d="M61.6,175.8 h5.5"/><path d="M61.6,160.7 h2.9"/><path d="M61.6,145.5 h5.5"/><path d="M61.6,130.4 h2.9"/><path d="M61.6,115.2 h5.5"/><path d="M61.6,100.1 h2.9"/><path d="M61.6,84.9 h5.5"/><path d="M61.6,69.8 h2.9"/><path d="M61.6,54.6 h5.5"/><path d="M61.6,39.4 h2.9"/><path d="M61.6,24.3 h5.5"/><path d="M61.6,9.2 h2.9"/><path d="M61.6,9.5 h2.9"/><path d="M86.7,327.4 v-3.0"/><path d="M112.0,327.4 v-6.0"/><path d="M137.2,327.4 v-3.0"/><path d="M162.5,327.4 v-6.0"/><path d="M187.7,327.4 v-3.0"/><path d="M212.9,327.4 v-6.0"/><path d="M238.2,327.4 v-3.0"/><path d="M263.4,327.4 v-6.0"/><path d="M288.7,327.4 v-3.0"/><path d="M313.9,327.4 v-6.0"/><path d="M339.1,327.4 v-3.0"/><path d="M364.4,327.4 v-6.0"/><path d="M389.6,327.4 v-3.0"/><path d="M414.9,327.4 v-6.0"/><path d="M440.1,327.4 v-3.0"/></g>
<text class="t" x="54.5" y="332.7" text-anchor="end">0.0</text><text class="t" x="54.5" y="302.4" text-anchor="end">0.6</text><text class="t" x="54.5" y="272.1" text-anchor="end">1.2</text><text class="t" x="54.5" y="241.8" text-anchor="end">1.8</text><text class="t" x="54.5" y="211.5" text-anchor="end">2.4</text><text class="t" x="54.5" y="181.2" text-anchor="end">3.0</text><text class="t" x="54.5" y="150.9" text-anchor="end">3.6</text><text class="t" x="54.5" y="120.6" text-anchor="end">4.2</text><text class="t" x="54.5" y="90.3" text-anchor="end">4.8</text><text class="t" x="54.5" y="60.0" text-anchor="end">5.4</text><text class="t" x="54.5" y="29.7" text-anchor="end">6.0</text><text class="t" x="61.0" y="349.3" text-anchor="middle">0</text><text class="t" x="111.5" y="349.3" text-anchor="middle">200</text><text class="t" x="162.0" y="349.3" text-anchor="middle">400</text><text class="t" x="212.4" y="349.3" text-anchor="middle">600</text><text class="t" x="262.9" y="349.3" text-anchor="middle">800</text><text class="t" x="313.4" y="349.3" text-anchor="middle">1000</text><text class="t" x="363.9" y="349.3" text-anchor="middle">1200</text><text class="t" x="414.4" y="349.3" text-anchor="middle">1400</text>
<text class="a" transform="translate(21.4,168.2) rotate(-90)" text-anchor="middle">SEY</text>
<text class="a" y="372"><tspan x="226.6" font-style="italic">E</tspan><tspan x="239.3" y="372.4" font-size="12.8px" stroke="#000" stroke-width="0.35">p</tspan><tspan x="249.2" y="372"> / </tspan><tspan x="264.2">e</tspan><tspan x="274.7">V</tspan></text>
<text class="l" x="463" y="22.5">measured</text>
<rect x="477.8" y="40.0" width="7.1" height="7.1" fill="#000000"/><text class="l" x="504.5" y="48.1">Si</text>
<circle cx="481.4" cy="70.4" r="4.0" fill="#FF1493"/><text class="l" x="504.5" y="75.0">1nm</text>
<polygon points="481.4,91.4 476.4,100.1 486.4,100.1" fill="#0C860C"/><text class="l" x="504.5" y="101.8">3nm</text>
<polygon points="481.4,129.3 476.4,120.7 486.4,120.7" fill="#FF8010"/><text class="l" x="504.5" y="128.5">7nm</text>
<polygon points="481.4,156.0 476.4,147.4 486.4,147.4" fill="#108888"/><text class="l" x="504.5" y="155.2">20nm</text>
<polygon points="475.5,176.7 484.8,171.7 484.8,181.7" fill="#0808A8"/><text class="l" x="504.5" y="181.9">MgO</text>
<text class="l" x="463" y="208.8">fitted</text>
<path d="M462.3,230.2 H500.5" stroke="#000000" stroke-width="2.1" fill="none"/><text class="l" x="504.5" y="234.8">Si</text>
<path d="M462.3,256.5 H500.5" stroke="#FF1493" stroke-width="2.1" fill="none"/><text class="l" x="504.5" y="261.1">1nm</text>
<path d="M462.3,282.9 H500.5" stroke="#0C860C" stroke-width="2.1" fill="none"/><text class="l" x="504.5" y="287.5">3nm</text>
<path d="M462.3,309.4 H500.5" stroke="#FF8010" stroke-width="2.1" fill="none"/><text class="l" x="504.5" y="314.0">7nm</text>
<path d="M462.3,336.1 H500.5" stroke="#108888" stroke-width="2.1" fill="none"/><text class="l" x="504.5" y="340.7">20nm</text>
<path d="M462.3,363.0 H500.5" stroke="#0808A8" stroke-width="2.1" fill="none"/><text class="l" x="504.5" y="367.6">MgO</text>
</svg></body></html>
